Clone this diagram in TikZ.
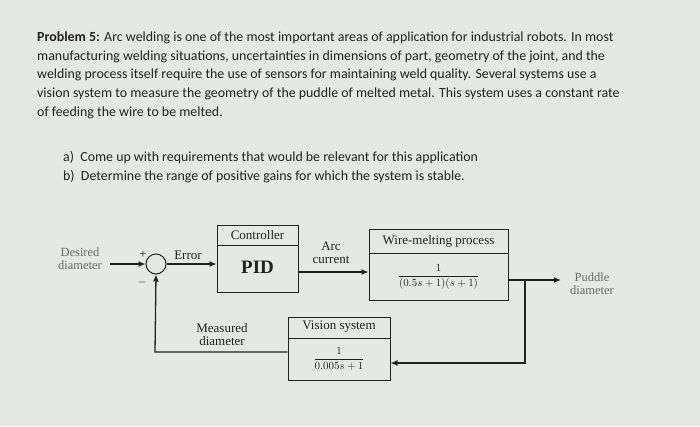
\documentclass[tikz,border=0pt]{standalone}
\usepackage{fontspec}
\setmainfont{Liberation Serif}
\newfontfamily\txt{Carlito}
\usetikzlibrary{arrows.meta}
\definecolor{bg}{HTML}{E6E8E4}
\definecolor{ink}{HTML}{222222}
\definecolor{lbl}{HTML}{6A6A6A}
\begin{document}
\begin{tikzpicture}[x=1pt,y=-1pt,
  para/.style={anchor=west,inner sep=0,font=\txt\fontsize{13.9}{16}\selectfont,text=ink},
  blk/.style={draw=ink,line width=1pt,inner sep=0},
  lab/.style={font=\fontsize{13}{13}\selectfont,text=ink,align=center,inner sep=0},
  glab/.style={font=\fontsize{12.5}{13}\selectfont,text=lbl,align=center,inner sep=0},
  frac/.style={font=\fontsize{11}{12}\selectfont,text=ink,inner sep=0},
  sig/.style={draw=ink,line width=1.3pt,-{Latex[length=7pt,width=6pt]}},
  wire/.style={draw=ink,line width=1.3pt}]
\fill[bg] (0,0) rectangle (700,426);
\useasboundingbox (0,0) rectangle (700,426);
\node[para] (l1) at (37,38) {\textbf{Problem 5:} Arc welding is one of the most important areas of application for industrial robots. In most};
\node[para] (l2) at (37,57) {manufacturing welding situations, uncertainties in dimensions of part, geometry of the joint, and the};
\node[para] (l3) at (37,75) {welding process itself require the use of sensors for maintaining weld quality. Several systems use a};
\node[para] (l4) at (37,94) {vision system to measure the geometry of the puddle of melted metal. This system uses a constant rate};
\node[para] (l5) at (37,113) {of feeding the wire to be melted.};
\node[para] (qa) at (63,158) {a)\ \ Come up with requirements that would be relevant for this application};
\node[para] (qb) at (63,177) {b)\ \ Determine the range of positive gains for which the system is stable.};
% blocks
\node[blk,minimum width=81,minimum height=67] (ctl) at (257.5,258.5) {};
\draw[ink,line width=0.8pt] (217,245) -- (298,245);
\node[lab] (ctlt) at (257.5,235) {Controller};
\node[lab,font=\bfseries\fontsize{19}{20}\selectfont] (pid) at (257.5,267) {PID};
\node[blk,minimum width=139,minimum height=71] (wm) at (438.5,264.5) {};
\draw[ink,line width=0.8pt] (369,253) -- (508,253);
\node[lab] (wmt) at (438.5,241) {Wire-melting process};
\node[frac] (wmf) at (438.5,277) {$\displaystyle\frac{1}{(0.5s+1)(s+1)}$};
\node[blk,minimum width=102,minimum height=63] (vs) at (339,348.5) {};
\draw[ink,line width=0.8pt] (288,338) -- (390,338);
\node[lab] (vst) at (339,327) {Vision system};
\node[frac] (vsf) at (339,359) {$\displaystyle\frac{1}{0.005s+1}$};
\node[draw=ink,line width=1pt,circle,minimum size=20,inner sep=0] (sum) at (156,264) {};
% labels
\node[glab] (dd) at (80,259) {Desired\\diameter};
\coordinate (in) at (110,264);
\node[lab] at (143,255) {+};
\node[lab] at (142,282) {$-$};
\node[lab] (err) at (188,255) {Error};
\node[lab] (arc) at (331,253) {Arc\\current};
\node[glab] (pd) at (592,284) {Puddle\\diameter};
\node[lab] (md) at (222,335) {Measured\\diameter};
\coordinate (br) at (525,280);
\coordinate (out) at (561,280);
% connectors
\draw[sig] (in) -- (sum);
\draw[sig] (sum) -- (sum -| ctl.west);
\draw[sig] (ctl.east |- 0,272) -- (wm.west |- 0,272);
\draw[wire] (wm.east |- br) -- (br);
\draw[sig] (br) -- (out);
\draw[sig] (br) -- (525,363) -- (vs.east |- 0,363);
\draw[sig] (vs.west |- 0,352) -- (155,352) -- (sum.south);
\end{tikzpicture}
\end{document}
